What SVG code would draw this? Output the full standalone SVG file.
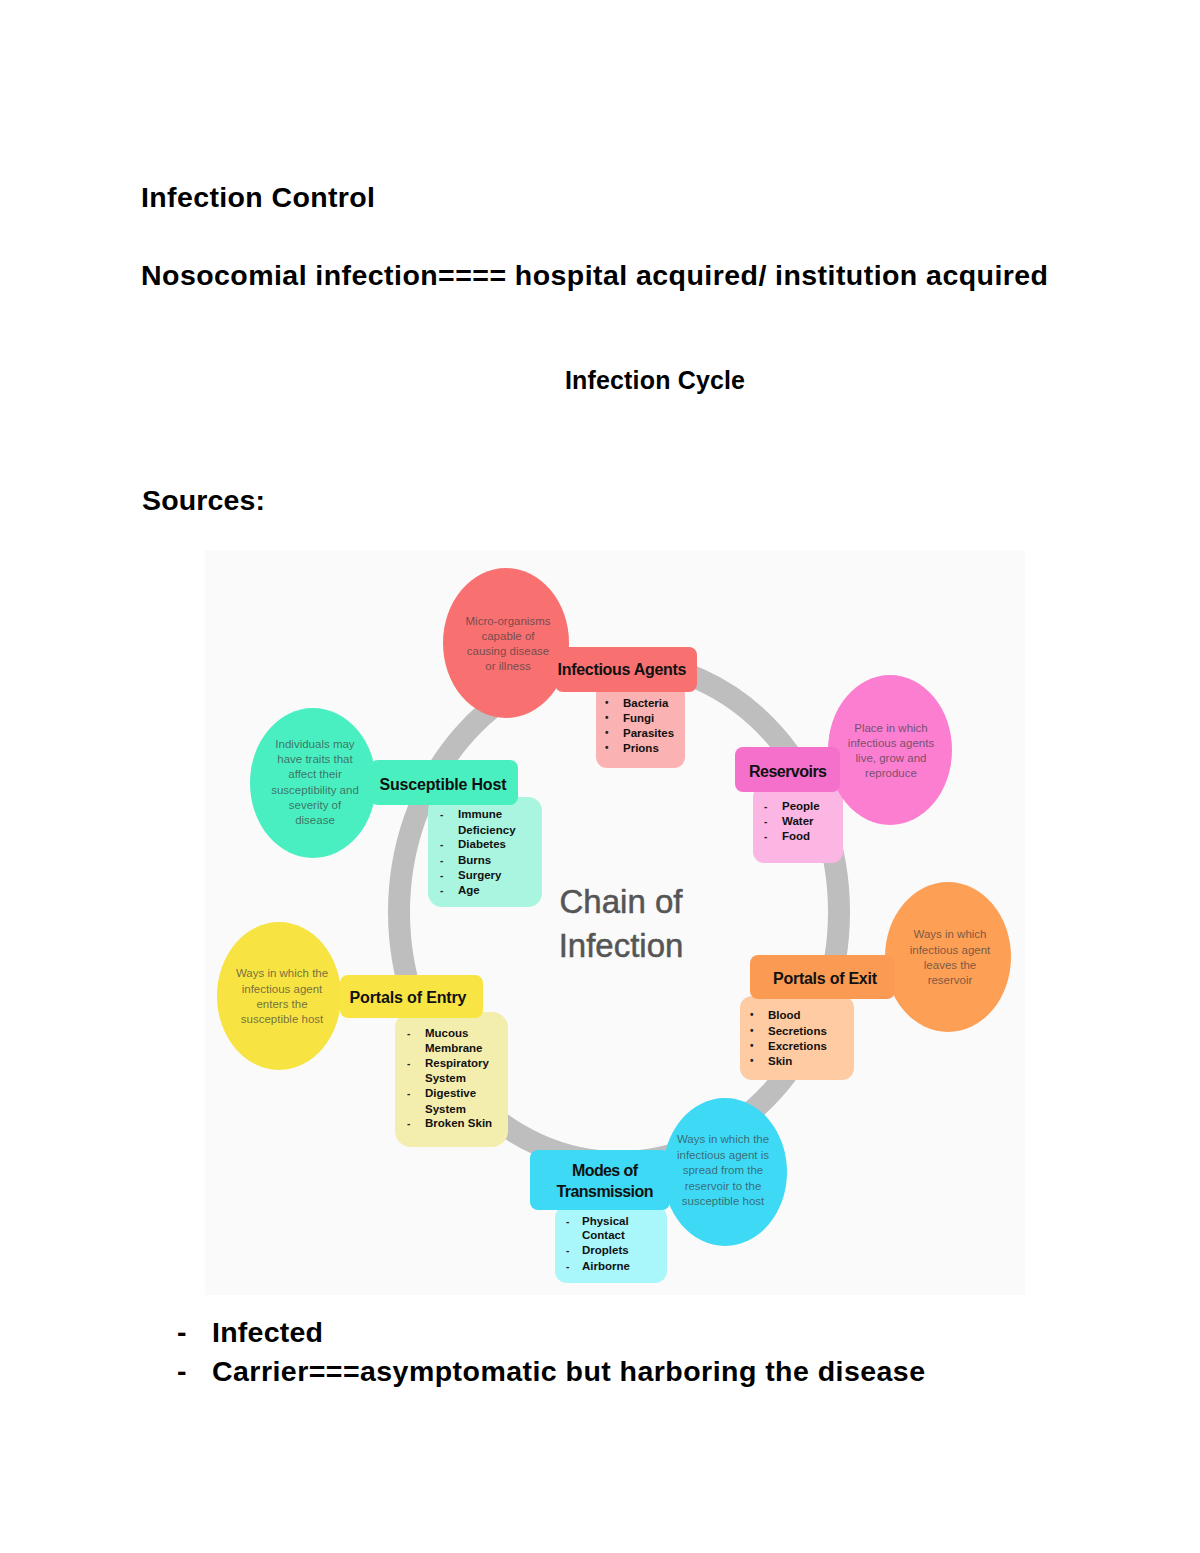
<svg xmlns="http://www.w3.org/2000/svg" width="1200" height="1553" viewBox="0 0 1200 1553">
<style>
.h{font-family:"Liberation Sans",Arial,sans-serif;font-weight:bold;fill:#000}
.lbl{font-family:"Liberation Sans",Arial,sans-serif;font-weight:bold;font-size:16px;fill:#111;text-anchor:middle}
.it{font-family:"Liberation Sans",Arial,sans-serif;font-weight:bold;font-size:11.5px;fill:#111}
.bul{font-family:"Liberation Sans",Arial,sans-serif;font-weight:bold;font-size:10px;fill:#222}
.d{font-family:"Liberation Sans",Arial,sans-serif;font-size:11.5px;fill:#3a3a3a;fill-opacity:0.7;text-anchor:middle}
.ctr{font-family:"Liberation Sans",Arial,sans-serif;font-size:33px;fill:#555;stroke:#555;stroke-width:0.5;text-anchor:middle}
</style>
<rect x="0" y="0" width="1200" height="1553" fill="#ffffff"/>
<text class="h" x="141" y="207" font-size="28.5" textLength="234">Infection Control</text>
<text class="h" x="141" y="285" font-size="28.5" textLength="907">Nosocomial infection==== hospital acquired/ institution acquired</text>
<text class="h" x="565" y="389" font-size="25" textLength="180">Infection Cycle</text>
<text class="h" x="142" y="510" font-size="28.5" textLength="123">Sources:</text>
<rect x="205" y="550" width="820" height="745" fill="#fafafa"/>
<g id="connectors">
<ellipse cx="619" cy="912" rx="220" ry="250" fill="none" stroke="#bebebe" stroke-width="22"/>
</g>
<g id="center">
<text class="ctr" x="621" y="913">Chain of</text>
<text class="ctr" x="621" y="957">Infection</text>
</g>
<g id="infectious-agents">
<rect x="596" y="684" width="89" height="84" rx="11" fill="#fbb2b2"/>
<ellipse cx="506" cy="643" rx="63" ry="75" fill="#f87070"/>
<rect x="555" y="647" width="142" height="45" rx="8" fill="#f87070"/>
<text class="lbl" x="622" y="675" textLength="129">Infectious Agents</text>
<text class="d" x="508" y="625">Micro-organisms</text>
<text class="d" x="508" y="640">capable of</text>
<text class="d" x="508" y="655">causing disease</text>
<text class="d" x="508" y="670">or illness</text>
<text class="bul" x="605" y="706">•</text><text class="it" x="623" y="707">Bacteria</text>
<text class="bul" x="605" y="721">•</text><text class="it" x="623" y="722">Fungi</text>
<text class="bul" x="605" y="736">•</text><text class="it" x="623" y="737">Parasites</text>
<text class="bul" x="605" y="751">•</text><text class="it" x="623" y="752">Prions</text>
</g>
<g id="reservoirs">
<rect x="753" y="786" width="90" height="77" rx="11" fill="#fbb6e3"/>
<ellipse cx="890" cy="750" rx="62" ry="75" fill="#fb7ed1"/>
<rect x="735" y="747" width="105" height="45" rx="8" fill="#f570cb"/>
<text class="lbl" x="788" y="777" textLength="78">Reservoirs</text>
<text class="d" x="891" y="732">Place in which</text>
<text class="d" x="891" y="747">infectious agents</text>
<text class="d" x="891" y="762">live, grow and</text>
<text class="d" x="891" y="777">reproduce</text>
<text class="bul" x="764" y="810">-</text><text class="it" x="782" y="810">People</text>
<text class="bul" x="764" y="825">-</text><text class="it" x="782" y="825">Water</text>
<text class="bul" x="764" y="840">-</text><text class="it" x="782" y="840">Food</text>
</g>
<g id="susceptible-host">
<rect x="428" y="797" width="114" height="110" rx="14" fill="#aaf5df"/>
<ellipse cx="313" cy="783" rx="63" ry="75" fill="#49efc1"/>
<rect x="370" y="760" width="148" height="45" rx="8" fill="#4aefc0"/>
<text class="lbl" x="443" y="790" textLength="127">Susceptible Host</text>
<text class="d" x="315" y="748">Individuals may</text>
<text class="d" x="315" y="763">have traits that</text>
<text class="d" x="315" y="778">affect their</text>
<text class="d" x="315" y="794">susceptibility and</text>
<text class="d" x="315" y="809">severity of</text>
<text class="d" x="315" y="824">disease</text>
<text class="bul" x="440" y="818">-</text><text class="it" x="458" y="818">Immune</text>
<text class="it" x="458" y="834">Deficiency</text>
<text class="bul" x="440" y="848">-</text><text class="it" x="458" y="848">Diabetes</text>
<text class="bul" x="440" y="864">-</text><text class="it" x="458" y="864">Burns</text>
<text class="bul" x="440" y="879">-</text><text class="it" x="458" y="879">Surgery</text>
<text class="bul" x="440" y="894">-</text><text class="it" x="458" y="894">Age</text>
</g>
<g id="portals-of-exit">
<rect x="740" y="996" width="114" height="84" rx="12" fill="#fecba3"/>
<ellipse cx="948" cy="957" rx="63" ry="75" fill="#fd9f55"/>
<rect x="750" y="955" width="145" height="44" rx="8" fill="#fb9a52"/>
<text class="lbl" x="825" y="984" textLength="104">Portals of Exit</text>
<text class="d" x="950" y="938">Ways in which</text>
<text class="d" x="950" y="954">infectious agent</text>
<text class="d" x="950" y="969">leaves the</text>
<text class="d" x="950" y="984">reservoir</text>
<text class="bul" x="750" y="1018">•</text><text class="it" x="768" y="1019">Blood</text>
<text class="bul" x="750" y="1034">•</text><text class="it" x="768" y="1035">Secretions</text>
<text class="bul" x="750" y="1049">•</text><text class="it" x="768" y="1050">Excretions</text>
<text class="bul" x="750" y="1064">•</text><text class="it" x="768" y="1065">Skin</text>
</g>
<g id="portals-of-entry">
<rect x="395" y="1012" width="113" height="135" rx="16" fill="#f4eeae"/>
<ellipse cx="279" cy="996" rx="62" ry="74" fill="#f7e342"/>
<rect x="340" y="975" width="143" height="43" rx="8" fill="#f8e443"/>
<text class="lbl" x="408" y="1003" textLength="117">Portals of Entry</text>
<text class="d" x="282" y="977">Ways in which the</text>
<text class="d" x="282" y="993">infectious agent</text>
<text class="d" x="282" y="1008">enters the</text>
<text class="d" x="282" y="1023">susceptible host</text>
<text class="bul" x="407" y="1037">-</text><text class="it" x="425" y="1037">Mucous</text>
<text class="it" x="425" y="1052">Membrane</text>
<text class="bul" x="407" y="1067">-</text><text class="it" x="425" y="1067">Respiratory</text>
<text class="it" x="425" y="1082">System</text>
<text class="bul" x="407" y="1097">-</text><text class="it" x="425" y="1097">Digestive</text>
<text class="it" x="425" y="1113">System</text>
<text class="bul" x="407" y="1127">-</text><text class="it" x="425" y="1127">Broken Skin</text>
</g>
<g id="modes-of-transmission">
<rect x="555" y="1206" width="112" height="77" rx="12" fill="#a9f6fb"/>
<ellipse cx="725" cy="1172" rx="62" ry="74" fill="#3dd9f5"/>
<rect x="530" y="1150" width="140" height="60" rx="8" fill="#3dd9f5"/>
<text class="lbl" x="605" y="1176" textLength="66">Modes of</text>
<text class="lbl" x="605" y="1197" textLength="97">Transmission</text>
<text class="d" x="723" y="1143">Ways in which the</text>
<text class="d" x="723" y="1159">infectious agent is</text>
<text class="d" x="723" y="1174">spread from the</text>
<text class="d" x="723" y="1190">reservoir to the</text>
<text class="d" x="723" y="1205">susceptible host</text>
<text class="bul" x="566" y="1225">-</text><text class="it" x="582" y="1225">Physical</text>
<text class="it" x="582" y="1239">Contact</text>
<text class="bul" x="566" y="1254">-</text><text class="it" x="582" y="1254">Droplets</text>
<text class="bul" x="566" y="1270">-</text><text class="it" x="582" y="1270">Airborne</text>
</g>
<text class="h" x="177" y="1342" font-size="28.5">-</text>
<text class="h" x="212" y="1342" font-size="28.5" textLength="111">Infected</text>
<text class="h" x="177" y="1381" font-size="28.5">-</text>
<text class="h" x="212" y="1381" font-size="28.5" textLength="713">Carrier===asymptomatic but harboring the disease</text>
</svg>
